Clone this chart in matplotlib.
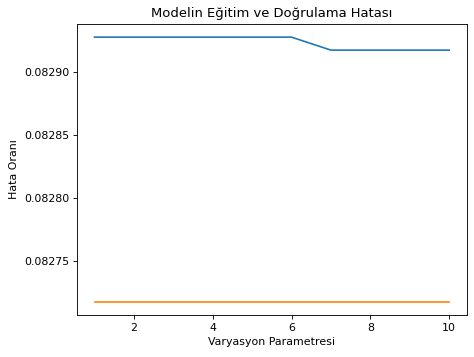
import matplotlib
matplotlib.use("Agg")
import matplotlib.pyplot as plt

# Varyasyon parametresi ve hata değerleri
params = [1, 2, 3, 4, 5, 6, 7, 8, 9, 10]
train_err = [0.0829273, 0.0829273, 0.0829273, 0.0829273, 0.0829273,
             0.0829273, 0.082917, 0.082917, 0.082917, 0.082917]
val_err = [0.0827175] * 10

DPI = 79
fig = plt.figure(figsize=(474 / DPI, 357 / DPI), dpi=DPI)
ax = fig.add_subplot(111)
fig.subplots_adjust(left=0.162, right=0.985, top=0.933, bottom=0.118)

ax.plot(params, train_err)
ax.plot(params, val_err)

ax.set_title("Modelin Eğitim ve Doğrulama Hatası")
ax.set_xlabel("Varyasyon Parametresi")
ax.set_ylabel("Hata Oranı")

plt.savefig("out.png", dpi=DPI)
